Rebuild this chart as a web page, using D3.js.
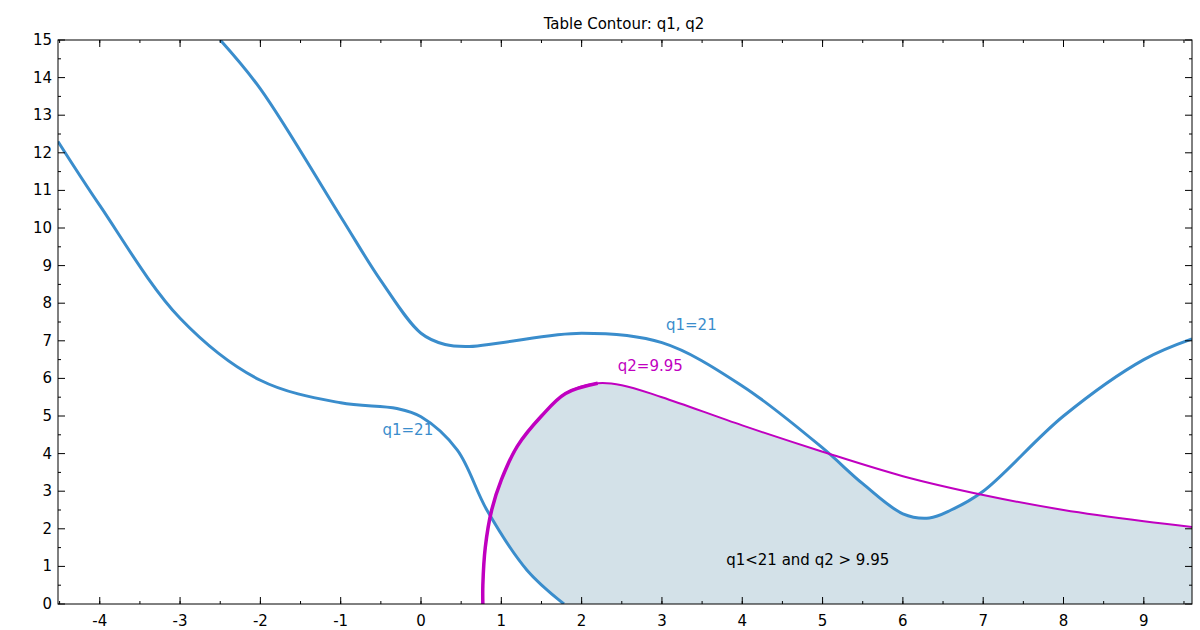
<!DOCTYPE html>
<html><head><meta charset="utf-8">
<script src="https://cdn.jsdelivr.net/npm/d3@7"></script>
<style>body{margin:0;background:#fff}text{font-family:"DejaVu Sans",sans-serif}</style>
</head><body><svg id="c" width="1200" height="630"></svg>
<script>
// contour q1=21, upper branch
const upperQ1 = [[-2.5,15],[-2,13.7],[-1,10.3],[-0.5,8.6],[0,7.2],[0.3,6.9],[0.6,6.85],[1,6.95],[2,7.2],[3,6.95],[4,5.8],[5,4.15],[5.5,3.2],[6,2.4],[6.33,2.29],[6.6,2.5],[7,3.0],[8,5.0],[9,6.5],[9.6,7.05]];
// contour q1=21, lower branch
const lowerQ1 = [[-4.52,12.3],[-4,10.6],[-3,7.6],[-2,5.95],[-1,5.35],[-0.3,5.2],[0,4.98],[0.45,4.1],[0.82,2.5],[1.32,0.9],[1.78,0]];
// contour q2=9.95
const q2Line = [[0.77,0],[0.77,0.5],[0.8,1.5],[0.88,2.5],[1,3.3],[1.2,4.2],[1.5,5.0],[1.8,5.6],[2.2,5.87],[2.5,5.82],[3,5.5],[4,4.75],[5,4.05],[6,3.4],[7,2.9],[8,2.5],[9,2.2],[9.6,2.05]];
const xTicks = [-4,-3,-2,-1,0,1,2,3,4,5,6,7,8,9];
const yTicks = d3.range(0,16);
const labels = [
  {x:3.05,y:7.3,t:"q1=21",c:"#3a8dcc"},
  {x:-0.48,y:4.5,t:"q1=21",c:"#3a8dcc"},
  {x:2.45,y:6.2,t:"q2=9.95",c:"#c000c0"},
  {x:3.8,y:1.05,t:"q1<21 and q2 > 9.95",c:"#000"}
];

const L=58,R=1192,T=40,B=604;
const x=d3.scaleLinear().domain([-4.52,9.6]).range([L,R]);
const y=d3.scaleLinear().domain([0,15]).range([B,T]);
const svg=d3.select('#c');
const line=d3.line().x(d=>x(d[0])).y(d=>y(d[1])).curve(d3.curveCatmullRom.alpha(0.5));
const defs=svg.append('defs');
defs.append('clipPath').attr('id','plot').append('rect').attr('x',L).attr('y',T).attr('width',R-L).attr('height',B-T);
// below upper branch
defs.append('clipPath').attr('id','belowU').append('path')
  .attr('d',line(upperQ1)+`L${x(9.6)},${y(-1)}L${x(-4.52)},${y(-1)}L${x(-4.52)},${y(15)}Z`);
// above lower branch
defs.append('clipPath').attr('id','aboveL').append('path')
  .attr('d',line(lowerQ1)+`L${x(9.6)},${y(0)}L${x(9.6)},${y(16)}L${x(-4.52)},${y(16)}Z`);

const g=svg.append('g').attr('clip-path','url(#plot)');
g.append('g').attr('clip-path','url(#belowU)').append('g').attr('clip-path','url(#aboveL)')
  .append('path').attr('d',line(q2Line)+`L${x(9.6)},${y(0)}Z`).attr('fill','#d3e1e8');

g.append('path').attr('d',line(upperQ1)).attr('fill','none').attr('stroke','#3a8dcc').attr('stroke-width',3);
g.append('path').attr('d',line(lowerQ1)).attr('fill','none').attr('stroke','#3a8dcc').attr('stroke-width',3);
g.append('path').attr('d',line(q2Line)).attr('fill','none').attr('stroke','#c000c0').attr('stroke-width',2);
g.append('path').attr('d',line(q2Line.filter(d=>d[0]<=2.2))).attr('fill','none').attr('stroke','#c000c0').attr('stroke-width',3.5);

// frame + inward ticks
svg.append('rect').attr('x',L).attr('y',T).attr('width',R-L).attr('height',B-T).attr('fill','none').attr('stroke','#000');
const ax=svg.append('g').attr('stroke','#000');
xTicks.forEach(v=>{ax.append('line').attr('x1',x(v)).attr('x2',x(v)).attr('y1',B).attr('y2',B-7);
  ax.append('line').attr('x1',x(v)).attr('x2',x(v)).attr('y1',T).attr('y2',T+7);});
d3.range(-4.5,9.6,0.5).forEach(v=>{ax.append('line').attr('x1',x(v)).attr('x2',x(v)).attr('y1',B).attr('y2',B-3);
  ax.append('line').attr('x1',x(v)).attr('x2',x(v)).attr('y1',T).attr('y2',T+3);});
yTicks.forEach(v=>{ax.append('line').attr('x1',L).attr('x2',L+7).attr('y1',y(v)).attr('y2',y(v));
  ax.append('line').attr('x1',R).attr('x2',R-7).attr('y1',y(v)).attr('y2',y(v));});
d3.range(0.5,15,1).forEach(v=>{ax.append('line').attr('x1',L).attr('x2',L+3).attr('y1',y(v)).attr('y2',y(v));
  ax.append('line').attr('x1',R).attr('x2',R-3).attr('y1',y(v)).attr('y2',y(v));});
svg.append('g').selectAll('text').data(xTicks).join('text').attr('x',d=>x(d)).attr('y',B+22)
  .attr('text-anchor','middle').attr('font-size',15).text(d=>d);
svg.append('g').selectAll('text').data(yTicks).join('text').attr('x',L-6).attr('y',d=>y(d)+5)
  .attr('text-anchor','end').attr('font-size',15).text(d=>d);
svg.append('text').attr('x',624).attr('y',29).attr('text-anchor','middle').attr('font-size',15).text('Table Contour: q1, q2');
svg.append('g').selectAll('text').data(labels).join('text').attr('x',d=>x(d.x)).attr('y',d=>y(d.y))
  .attr('font-size',15).attr('fill',d=>d.c).text(d=>d.t);
</script></body></html>
